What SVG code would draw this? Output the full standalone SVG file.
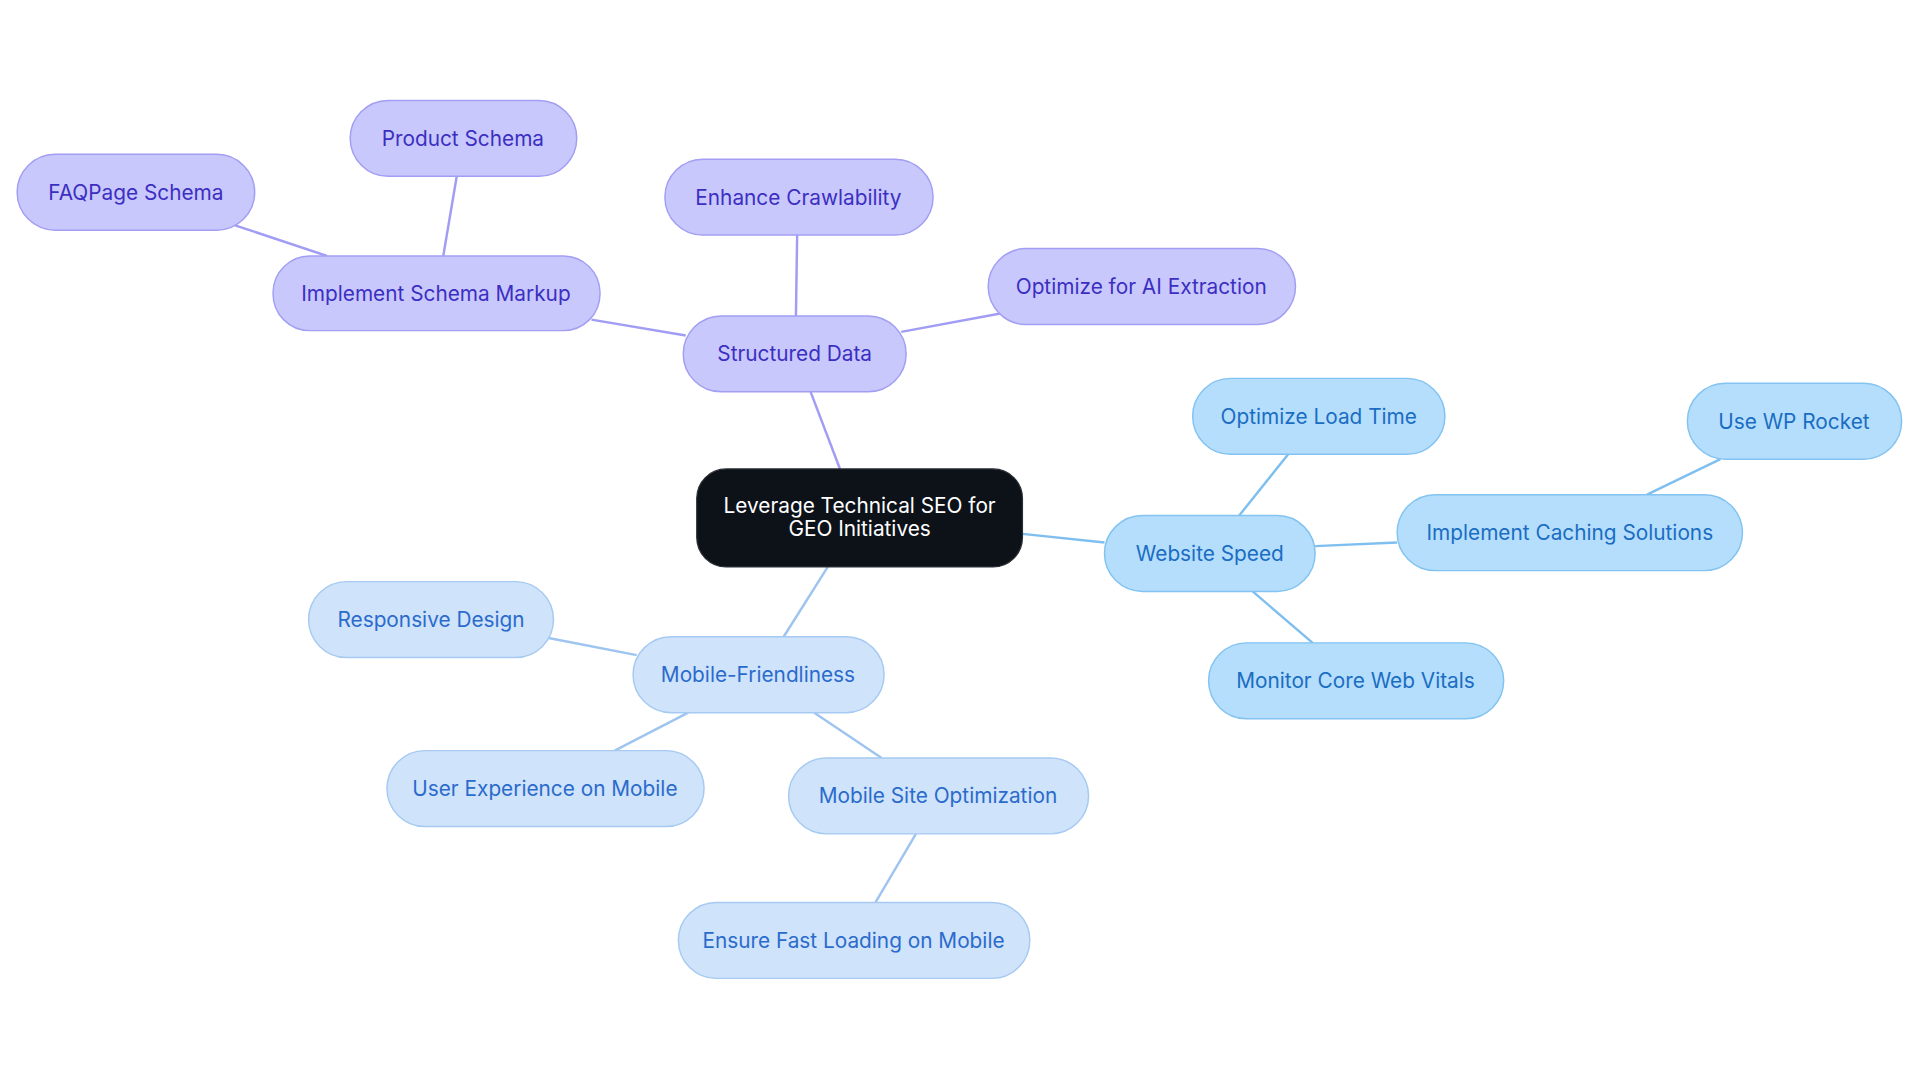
<svg xmlns="http://www.w3.org/2000/svg" width="1920" height="1083" viewBox="0 0 1920 1083">
<style>
text{font-family:Inter,"Noto Sans","Liberation Sans",sans-serif;font-size:17px;text-anchor:middle;dominant-baseline:central}
.p rect{fill:#c9c8fc;stroke:#a29ef3;stroke-width:1.2}
.p text{fill:#3b2fc2}
.s rect{fill:#b5defc;stroke:#82c3f1;stroke-width:1.2}
.s text{fill:#1a6dc2}
.m rect{fill:#cfe3fb;stroke:#a6caf1;stroke-width:1.2}
.m text{fill:#2b6bcb}
.c rect{fill:#0d1219;stroke:#2a2f36}
.c text{fill:#ffffff}
.ep{stroke:#a19cf4;stroke-width:2;fill:none}
.es{stroke:#7fbff0;stroke-width:2;fill:none}
.em{stroke:#9ec4f0;stroke-width:2;fill:none}
</style>
<rect width="1920" height="1083" fill="#ffffff"/>
<g transform="scale(1.2245)">
<g id="connectors">
<line class="ep" x1="686" y1="383" x2="662" y2="320"/>
<line class="ep" x1="560" y1="274" x2="483" y2="261"/>
<line class="ep" x1="362" y1="209" x2="373" y2="144"/>
<line class="ep" x1="267" y1="209" x2="192" y2="184"/>
<line class="ep" x1="650" y1="258" x2="651" y2="192"/>
<line class="ep" x1="736" y1="271" x2="817" y2="256"/>
<line class="es" x1="835" y1="436" x2="902" y2="443"/>
<line class="es" x1="1012" y1="421" x2="1052" y2="371"/>
<line class="es" x1="1074" y1="446" x2="1141" y2="443"/>
<line class="es" x1="1345" y1="404" x2="1405" y2="375"/>
<line class="es" x1="1023" y1="483" x2="1072" y2="525"/>
<line class="em" x1="676" y1="463" x2="640" y2="520"/>
<line class="em" x1="520" y1="535" x2="448" y2="521"/>
<line class="em" x1="562" y1="582" x2="502" y2="613"/>
<line class="em" x1="665" y1="582" x2="720" y2="619"/>
<line class="em" x1="748" y1="681" x2="715" y2="737"/>
</g>
<g id="center" class="c"><rect x="569" y="383" width="266" height="80" rx="24"/><text x="702" y="413">Leverage Technical SEO for</text><text x="702" y="432">GEO Initiatives</text></g>
<g id="structured-data" class="p"><rect x="558" y="258" width="182" height="62" rx="31"/><text x="649" y="289">Structured Data</text></g>
<g id="schema-markup" class="p"><rect x="223" y="209" width="267" height="61" rx="30"/><text x="356" y="240">Implement Schema Markup</text></g>
<g id="product-schema" class="p"><rect x="286" y="82" width="185" height="62" rx="31"/><text x="378" y="113">Product Schema</text></g>
<g id="faq-schema" class="p"><rect x="14" y="126" width="194" height="62" rx="31"/><text x="111" y="157">FAQPage Schema</text></g>
<g id="crawlability" class="p"><rect x="543" y="130" width="219" height="62" rx="31"/><text x="652" y="161">Enhance Crawlability</text></g>
<g id="ai-extraction" class="p"><rect x="807" y="203" width="251" height="62" rx="31"/><text x="932" y="234">Optimize for AI Extraction</text></g>
<g id="website-speed" class="s"><rect x="902" y="421" width="172" height="62" rx="31"/><text x="988" y="452">Website Speed</text></g>
<g id="load-time" class="s"><rect x="974" y="309" width="206" height="62" rx="31"/><text x="1077" y="340">Optimize Load Time</text></g>
<g id="caching" class="s"><rect x="1141" y="404" width="282" height="62" rx="31"/><text x="1282" y="435">Implement Caching Solutions</text></g>
<g id="wp-rocket" class="s"><rect x="1378" y="313" width="175" height="62" rx="31"/><text x="1465" y="344">Use WP Rocket</text></g>
<g id="core-web-vitals" class="s"><rect x="987" y="525" width="241" height="62" rx="31"/><text x="1107" y="556">Monitor Core Web Vitals</text></g>
<g id="mobile-friendliness" class="m"><rect x="517" y="520" width="205" height="62" rx="31"/><text x="619" y="551">Mobile-Friendliness</text></g>
<g id="responsive-design" class="m"><rect x="252" y="475" width="200" height="62" rx="31"/><text x="352" y="506">Responsive Design</text></g>
<g id="ux-mobile" class="m"><rect x="316" y="613" width="259" height="62" rx="31"/><text x="445" y="644">User Experience on Mobile</text></g>
<g id="mobile-site-opt" class="m"><rect x="644" y="619" width="245" height="62" rx="31"/><text x="766" y="650">Mobile Site Optimization</text></g>
<g id="fast-loading" class="m"><rect x="554" y="737" width="287" height="62" rx="31"/><text x="697" y="768">Ensure Fast Loading on Mobile</text></g>
</g>
</svg>
